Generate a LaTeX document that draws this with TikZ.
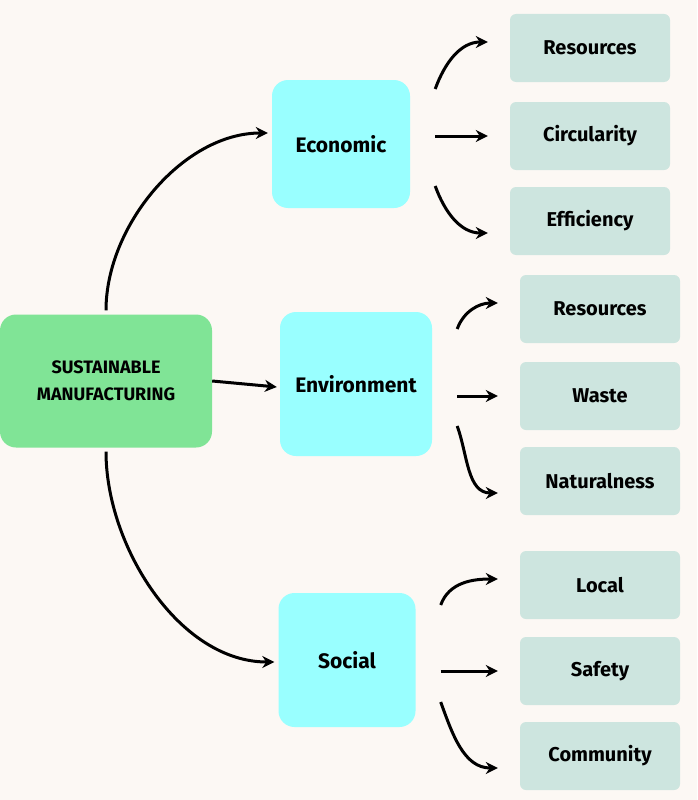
\documentclass[tikz,border=0pt]{standalone}
\usepackage{fontspec}
\setmainfont{Fira Sans}
\usetikzlibrary{arrows.meta, calc}
\definecolor{paper}{HTML}{FCF8F4}
\definecolor{rootgreen}{HTML}{80E496}
\definecolor{pillar}{HTML}{99FFFF}
\definecolor{leafgrey}{HTML}{CDE5DF}
\begin{document}
\begin{tikzpicture}[
        x=1pt, y=-1pt,
        root/.style={fill=rootgreen, rounded corners=16pt, minimum width=212pt, minimum height=133pt, align=center, font=\bfseries\fontsize{18}{27}\selectfont},
        pillar/.style={fill=pillar, rounded corners=16pt, font=\bfseries\fontsize{21}{24}\selectfont},
        leaf/.style={fill=leafgrey, rounded corners=6pt, minimum width=160pt, minimum height=68pt, font=\bfseries\fontsize{20}{24}\selectfont},
        link/.style={line width=3pt, -{Stealth[length=12pt, width=12pt]}},
        every node/.style={color=black, inner sep=0pt}]

    % page
    \fill[paper] (0,0) rectangle (697,800);

    % root and pillars
    \node[root] (sm) at (106,381) {SUSTAINABLE\\MANUFACTURING};
    \node[pillar, minimum width=138pt, minimum height=128pt] (eco) at (341,144) {Economic};
    \node[pillar, minimum width=152pt, minimum height=144pt] (env) at (356,384) {Environment};
    \node[pillar, minimum width=137pt, minimum height=134pt] (soc) at (347,660) {Social};

    % leaves
    \node[leaf] (ecores) at (590,48) {Resources};
    \node[leaf] (ecocirc) at (590,136) {Circularity};
    \node[leaf] (ecoeff) at (590,221) {Efficiency};
    \node[leaf] (envres) at (600,309) {Resources};
    \node[leaf] (envwaste) at (600,396) {Waste};
    \node[leaf] (envnat) at (600,481) {Naturalness};
    \node[leaf] (soclocal) at (600,585) {Local};
    \node[leaf] (socsafe) at (600,671) {Safety};
    \node[leaf] (soccomm) at (600,756) {Community};

    % root to pillars
    \draw[link] ($(sm.north)+(0,-4)$) to[out=90, in=180, looseness=0.9] ($(eco.west)+(-4,-11)$);
    \draw[link] (sm.east) -- ($(env.west)+(-3,3)$);
    \draw[link] ($(sm.south)+(0,4)$) to[out=-90, in=180, looseness=0.9] ($(soc.west)+(-4,2)$);

    % pillars to leaves
    \foreach \p/\a/\b/\c in {eco/ecores/ecocirc/ecoeff, env/envres/envwaste/envnat, soc/soclocal/socsafe/soccomm}{
        \draw[link] ($(\p.east)+(25,-55)$) to[out=70, in=180] ($(\a.west)+(-22,-6)$);
        \draw[link] ($(\p.east |- \b.west)+(25,0)$) -- ($(\b.west)+(-22,0)$);
        \draw[link] ($(\p.east)+(25,42)$) to[out=-70, in=180] ($(\c.west)+(-22,12)$);
    }
\end{tikzpicture}
\end{document}
